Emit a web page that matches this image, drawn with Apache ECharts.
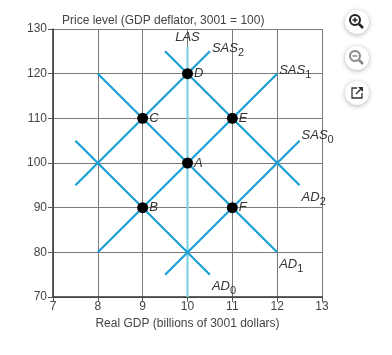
<!DOCTYPE html>
<html>
<head>
<meta charset="utf-8">
<script src="https://cdn.jsdelivr.net/npm/echarts@6/dist/echarts.min.js"></script>
<style>
  html, body { margin: 0; padding: 0; background: #fff; }
  #chart { width: 392px; height: 355px; }
</style>
</head>
<body>
<div id="chart"></div>
<script>
  // axis ranges
  var xMin = 7, xMax = 13, yMin = 70, yMax = 130
  // curves, each as [start, end]
  var las = [[10, 70], [10, 126]]
  var sas0 = [[9.5, 75], [12.5, 105]]
  var sas1 = [[8, 80], [12, 120]]
  var sas2 = [[7.5, 95], [10.5, 125]]
  var ad0 = [[7.5, 105], [10.5, 75]]
  var ad1 = [[8, 120], [12, 80]]
  var ad2 = [[9.5, 125], [12.5, 95]]
  // equilibrium points
  var pointNames = ['A', 'B', 'C', 'D', 'E', 'F']
  var pointX = [10, 9, 9, 10, 11, 11]
  var pointY = [100, 90, 110, 120, 110, 90]

  var font = 'Liberation Sans, Arial, sans-serif'
  var blue = '#1a9fd6'

  function endLabel(data, label) {
    return data.map(function (p, i) {
      if (i !== data.length - 1) return { value: p, symbolSize: 0 }
      return { value: p, symbolSize: 0, label: label }
    })
  }

  function curve(data, base, sub, labelOffset) {
    return {
      type: 'line',
      data: endLabel(data, {
        show: true,
        position: 'right',
        distance: 2,
        offset: labelOffset,
        formatter: '{a|' + base + '}{s|' + sub + '}',
        rich: {
          a: { fontSize: 13, fontStyle: 'italic', color: '#333', fontFamily: font },
          s: { fontSize: 11, color: '#333', fontFamily: font, padding: [9, 0, 0, 0] }
        }
      }),
      showSymbol: true,
      symbol: 'circle',
      lineStyle: { color: blue, width: 2.2 },
      silent: true,
      z: 3
    }
  }

  var chart = echarts.init(document.getElementById('chart'))
  chart.setOption({
    animation: false,
    title: {
      text: 'Price level (GDP deflator, 3001 = 100)',
      left: 57,
      top: 10,
      textStyle: { fontSize: 12, fontWeight: 'normal', color: '#444', fontFamily: font }
    },
    grid: { left: 53, right: 70, top: 29, bottom: 58 },
    xAxis: {
      type: 'value',
      min: xMin, max: xMax, interval: 1,
      name: 'Real GDP (billions of 3001 dollars)',
      nameLocation: 'middle',
      nameGap: 20,
      nameTextStyle: { fontSize: 12, color: '#444', fontFamily: font },
      axisLine: { lineStyle: { color: '#333', width: 1.5 } },
      axisTick: { show: true, length: 5, lineStyle: { color: '#555' } },
      axisLabel: { margin: 4, fontSize: 12, color: '#444', fontFamily: font },
      splitLine: { show: true, lineStyle: { color: '#7a7a7a', width: 1 } }
    },
    yAxis: {
      type: 'value',
      min: yMin, max: yMax, interval: 10,
      axisLine: { show: true, lineStyle: { color: '#333', width: 1.5 } },
      axisTick: { show: true, length: 5, lineStyle: { color: '#555' } },
      axisLabel: { margin: 6, fontSize: 12, color: '#444', fontFamily: font },
      splitLine: { show: true, lineStyle: { color: '#7a7a7a', width: 1 } }
    },
    series: [
      {
        type: 'line',
        data: endLabel(las, {
          show: true, position: 'top', distance: 3,
          formatter: 'LAS',
          fontSize: 13, fontStyle: 'italic', color: '#333', fontFamily: font
        }),
        showSymbol: true,
        symbol: 'circle',
        lineStyle: { color: '#7fd3e6', width: 2.2 },
        silent: true,
        z: 2
      },
      curve(sas0, 'SAS', '0', [0, -5]),
      curve(sas1, 'SAS', '1', [0, -3]),
      curve(sas2, 'SAS', '2', [0, -3]),
      curve(ad0, 'AD', '0', [0, 12]),
      curve(ad1, 'AD', '1', [0, 12]),
      curve(ad2, 'AD', '2', [0, 12]),
      {
        type: 'scatter',
        data: pointNames.map(function (n, i) {
          return { name: n, value: [pointX[i], pointY[i]] }
        }),
        symbolSize: 11,
        itemStyle: { color: '#000', opacity: 1 },
        label: {
          show: true, position: 'right', distance: 1,
          formatter: '{b}',
          fontSize: 13, fontStyle: 'italic', color: '#333', fontFamily: font
        },
        silent: true,
        z: 5
      }
    ],
    graphic: [0, 1, 2].map(function (k) {
      var cy = [22, 58, 93][k]
      var children = [
        { type: 'circle', shape: { cx: 0, cy: 0, r: 12 },
          style: { fill: '#fff', shadowBlur: 5, shadowColor: 'rgba(0,0,0,0.3)', shadowOffsetY: 1 } }
      ]
      if (k < 2) {
        var c = k === 0 ? '#222' : '#888'
        children.push(
          { type: 'circle', shape: { cx: -2, cy: -2, r: 5 }, style: { fill: 'none', stroke: c, lineWidth: 2 } },
          { type: 'line', shape: { x1: 2, y1: 2, x2: 6, y2: 6 }, style: { stroke: c, lineWidth: 2.5 } },
          { type: 'line', shape: { x1: -4.5, y1: -2, x2: 0.5, y2: -2 }, style: { stroke: c, lineWidth: 1.5 } }
        )
        if (k === 0) children.push({ type: 'line', shape: { x1: -2, y1: -4.5, x2: -2, y2: 0.5 }, style: { stroke: c, lineWidth: 1.5 } })
      } else {
        children.push(
          { type: 'polyline', shape: { points: [[0, -5], [-5, -5], [-5, 5], [5, 5], [5, 0]] }, style: { fill: 'none', stroke: '#333', lineWidth: 1.3 } },
          { type: 'line', shape: { x1: -1, y1: 1, x2: 5, y2: -5 }, style: { stroke: '#333', lineWidth: 1.5 } },
          { type: 'polygon', shape: { points: [[6, -6], [1, -6], [6, -1]] }, style: { fill: '#333' } }
        )
      }
      return { type: 'group', x: 357, y: cy, children: children }
    })
  })
</script>
</body>
</html>
